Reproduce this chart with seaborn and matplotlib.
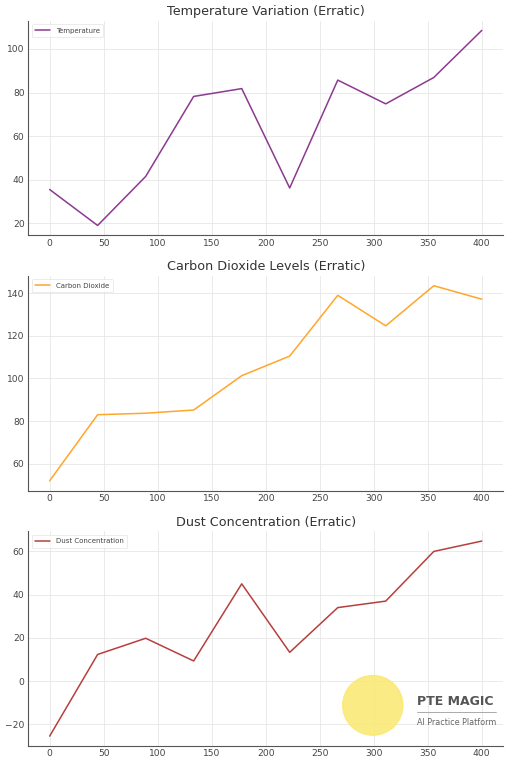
import numpy as np
import pandas as pd
import seaborn as sns
import matplotlib.pyplot as plt
from matplotlib.patches import Ellipse

#%% Data
x_vals = [0, 44.4, 88.9, 133.3, 177.8, 222.2, 266.7, 311.1, 355.6, 400]
temperature = [35.5, 19, 41.5, 78.2, 81.8, 36.2, 85.7, 74.8, 86.9, 108.5]
co2 = [52, 83, 83.7, 85.2, 101.3, 110.5, 139, 124.7, 143.5, 137.2]
dust = [-25.5, 12.3, 19.8, 9.3, 45, 13.3, 34, 37, 60, 64.8]

titles = ["Temperature Variation (Erratic)",
          "Carbon Dioxide Levels (Erratic)",
          "Dust Concentration (Erratic)"]
labels = ["Temperature", "Carbon Dioxide", "Dust Concentration"]
colors = ["#8b3a8f", "#ffa62b", "#b5403d"]
series = [temperature, co2, dust]

#%% Style
sns.set_theme(style="whitegrid")
plt.rcParams['font.family'] = ['DejaVu Sans']
plt.rcParams.update({
    "axes.edgecolor": "#555555",
    "grid.color": "#e6e6e6",
    "grid.linewidth": 0.6,
    "xtick.color": "#444444",
    "ytick.color": "#444444",
    "axes.titlecolor": "#333333",
})

#%% Plot
fig, axes = plt.subplots(3, 1, figsize=(5.1, 7.65), dpi=100)
fig.subplots_adjust(left=0.055, right=0.987, top=0.973, bottom=0.025, hspace=0.19)

for ax, ys, title, lab, col in zip(axes, series, titles, labels, colors):
    df = pd.DataFrame({"x": x_vals, "y": ys})
    sns.lineplot(data=df, x="x", y="y", ax=ax, color=col, linewidth=1.1, label=lab)
    ax.set_title(title, fontsize=9.2, pad=4)
    ax.set_xlabel("")
    ax.set_ylabel("")
    ax.tick_params(labelsize=6.6, length=0, pad=2.5)
    ax.set_xticks([0, 50, 100, 150, 200, 250, 300, 350, 400])
    for s in ["top", "right"]:
        ax.spines[s].set_visible(False)
    for s in ["left", "bottom"]:
        ax.spines[s].set_linewidth(0.8)
    leg = ax.legend(loc="upper left", fontsize=5, frameon=True, handlelength=2.2,
                    borderpad=0.5, labelcolor="#444444")
    leg.get_frame().set_edgecolor("#dddddd")
    leg.get_frame().set_linewidth(0.5)

#%% Watermark
circ = Ellipse((0.731, 0.078), 0.118, 0.078, transform=fig.transFigure,
               color="#fbe870", alpha=0.85, zorder=5)
fig.patches.append(circ)
fig.text(0.818, 0.083, "PTE MAGIC", fontsize=9, fontweight="bold", color="#555555",
         ha="left", va="center", zorder=6)
fig.add_artist(plt.Line2D([0.818, 0.972], [0.069, 0.069], transform=fig.transFigure,
                          color="#888888", linewidth=0.5))
fig.text(0.818, 0.056, "AI Practice Platform", fontsize=5.8, color="#666666",
         ha="left", va="center", zorder=6)

plt.savefig("out.png", dpi=100)
